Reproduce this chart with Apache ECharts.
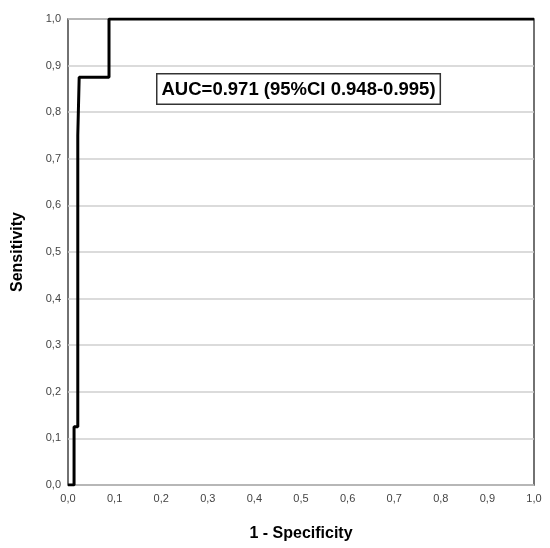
<!DOCTYPE html>
<html>
<head>
<meta charset="utf-8">
<script src="https://cdn.jsdelivr.net/npm/echarts@6/dist/echarts.min.js"></script>
<style>
html,body{margin:0;padding:0;background:#fff;}
#chart{width:550px;height:548px;}
</style>
</head>
<body>
<div id="chart"></div>
<script>
// ROC curve points (1 - specificity, sensitivity)
var fpr = [0, 0.013, 0.013, 0.021, 0.021, 0.024, 0.024, 0.088, 0.088, 1.0];
var tpr = [0, 0, 0.125, 0.125, 0.75, 0.75, 0.875, 0.875, 1.0, 1.0];
var xTitle = '1 - Specificity';
var yTitle = 'Sensitivity';
var annotation = 'AUC=0.971 (95%CI 0.948-0.995)';

var pts = fpr.map(function (x, i) { return [x, tpr[i]]; });
function fmt(v) { return v.toFixed(1).replace('.', ','); }

var chart = echarts.init(document.getElementById('chart'));
chart.setOption({
  animation: false,
  backgroundColor: '#fff',
  grid: { left: 68, right: 16, top: 19, bottom: 63, show: true, borderColor: '#444', borderWidth: 1.5 },
  xAxis: {
    type: 'value', min: 0, max: 1, interval: 0.1,
    name: xTitle, nameLocation: 'middle', nameGap: 41,
    nameTextStyle: { fontFamily: 'Liberation Sans', fontWeight: 'bold', fontSize: 16, color: '#000' },
    axisLine: { show: false }, axisTick: { show: false },
    splitLine: { show: false },
    axisLabel: { formatter: fmt, color: '#444', fontFamily: 'Liberation Sans', fontSize: 11, margin: 8 }
  },
  yAxis: {
    type: 'value', min: 0, max: 1, interval: 0.1,
    name: yTitle, nameLocation: 'middle', nameGap: 42,
    nameTextStyle: { fontFamily: 'Liberation Sans', fontWeight: 'bold', fontSize: 16, color: '#000' },
    axisLine: { show: false }, axisTick: { show: false },
    splitLine: { show: true, lineStyle: { color: '#cfcfcf', width: 1.5 } },
    axisLabel: { formatter: fmt, color: '#444', fontFamily: 'Liberation Sans', fontSize: 11, margin: 7 }
  },
  series: [{
    type: 'line', data: pts, showSymbol: false, symbol: 'none',
    lineStyle: { color: '#000', width: 3 }, z: 5
  }],
  graphic: [{
    type: 'text', left: 156, top: 73, z: 10,
    style: {
      text: annotation, fill: '#000',
      font: 'bold 18.5px "Liberation Sans", Arial, sans-serif',
      backgroundColor: '#fff', borderColor: '#333', borderWidth: 1.5,
      padding: [6, 4, 4, 4]
    }
  }]
});
</script>
</body>
</html>
